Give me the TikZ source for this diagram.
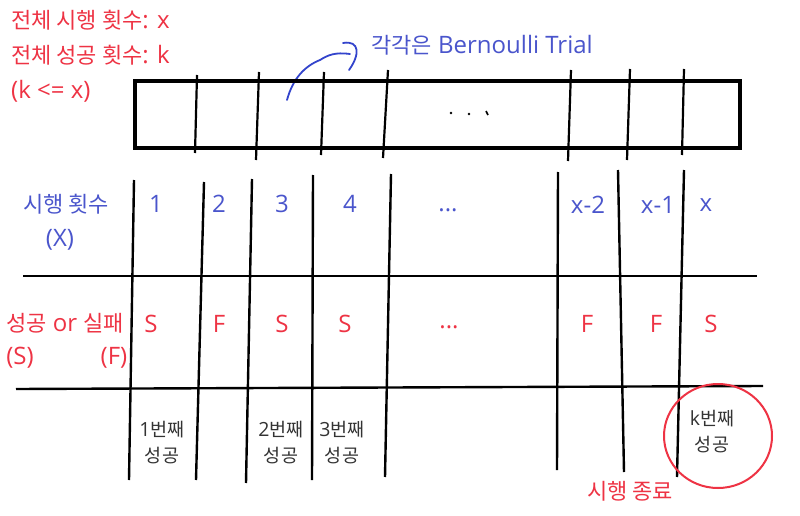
\documentclass[tikz,border=0pt]{standalone}
\usepackage{fontspec}
\setmainfont{Open Sans}
\newfontfamily\krfont{Noto Sans CJK KR}
\newcommand{\hk}[1]{{\krfont\fontsize{22}{26}\selectfont #1}}
\newcommand{\hks}[1]{{\krfont\fontsize{18.5}{26}\selectfont #1}}
\definecolor{myred}{HTML}{EE3344}
\definecolor{myblue}{HTML}{4A55CC}
\definecolor{arrowblue}{HTML}{3344CC}
\definecolor{mygray}{HTML}{333333}
\begin{document}
\begin{tikzpicture}[x=1pt,y=-1pt,
  redtxt/.style={text=myred,font=\fontsize{24}{26}\selectfont,inner sep=0pt},
  bluetxt/.style={text=myblue,font=\fontsize{24}{26}\selectfont,inner sep=0pt},
  graytxt/.style={text=mygray,font=\fontsize{19.5}{26}\selectfont,inner sep=0pt,align=center},
  grid/.style={line width=2.4pt,black},
  tick/.style={line width=2.2pt,black}]
\useasboundingbox[fill=white] (0,0) rectangle (800,516);
% top-left texts
\node[redtxt,anchor=west] (t1) at (11,20) {\hk{전체 시행 횟수}: x};
\node[redtxt,anchor=west] (t2) at (11,55) {\hk{전체 성공 횟수}: k};
\node[redtxt,anchor=west] (t3) at (11,91) {(k <= x)};
\node[bluetxt,anchor=west] (t4) at (371,45) {\hk{각각은} Bernoulli Trial};
% blue hand arrow
\draw[arrowblue,line width=1.8pt,line cap=round,line join=round]
  (287,100) .. controls (293,78) and (305,66) .. (320,60)
  .. controls (328,55) and (335,52) .. (350,54);
\draw[arrowblue,line width=1.8pt,line cap=round]
  (343,43) .. controls (360,40) and (360,55) .. (349,70);
% rectangle
\draw[line width=3.2pt] (135,81) rectangle (740,148);
\draw[tick] (197,75) -- (195,153);
\draw[tick] (259,72) -- (256,160);
\draw[tick] (324,72) -- (321,155);
\draw[tick] (388,70) -- (383,158);
\draw[tick] (571,70) -- (568,161);
\draw[tick] (630,69) -- (627,160);
\draw[tick] (684,69) -- (682,155);
\fill (451,113) circle (1.3pt);
\fill (469,114) circle (1.3pt);
\draw[line width=1.6pt] (486,111) -- (488,115);
% grid lines
\draw[grid] (23,276) -- (757,276);
\draw[grid] (16,389) -- (763,386);
\draw[grid] (134,180) -- (129,480);
\draw[grid] (204,182) -- (196,480);
\draw[grid] (252,179) -- (246,483);
\draw[grid] (313,175) -- (312,480);
\draw[grid] (391,174) -- (385,477);
\draw[grid] (558,172) -- (557,470);
\draw[grid] (618,170) -- (624,472);
\draw[grid] (684,170) -- (677,477);
% row X
\node[bluetxt] (x0) at (66,204) {\hk{시행 횟수}};
\node[bluetxt] (x0b) at (60,240) {(X)};
\node[bluetxt] (n1) at (156,204) {1};
\node[bluetxt] (n2) at (219,204) {2};
\node[bluetxt] (n3) at (282,204) {3};
\node[bluetxt] (n4) at (350,204) {4};
\node[bluetxt] (nd) at (448,210) {...};
\node[bluetxt] (nx2) at (588,205) {x-2};
\node[bluetxt] (nx1) at (658,205) {x-1};
\node[bluetxt] (nx) at (706,205) {x};
% row S/F
\node[redtxt] (r0) at (65,323) {\hk{성공} or \hk{실패}};
\node[redtxt] (r0s) at (20,358) {(S)};
\node[redtxt] (r0f) at (114,358) {(F)};
\node[redtxt] (s1) at (151,324) {S};
\node[redtxt] (s2) at (219,324) {F};
\node[redtxt] (s3) at (282,324) {S};
\node[redtxt] (s4) at (345,324) {S};
\node[redtxt] (sd) at (449,327) {...};
\node[redtxt] (sx2) at (587,324) {F};
\node[redtxt] (sx1) at (656,324) {F};
\node[redtxt] (sx) at (711,324) {S};
% bottom texts
\node[graytxt] (b1) at (162,443) {1\hks{번째}\\\hks{성공}};
\node[graytxt] (b2) at (281,443) {2\hks{번째}\\\hks{성공}};
\node[graytxt] (b3) at (342,443) {3\hks{번째}\\\hks{성공}};
\node[graytxt] (bk) at (712,432) {k\hks{번째}\\\hks{성공}};
\draw[myred,line width=2pt] (718,436) ellipse [x radius=54, y radius=52];
\node[redtxt] (end) at (630,491) {\hk{시행 종료}};
\end{tikzpicture}
\end{document}
